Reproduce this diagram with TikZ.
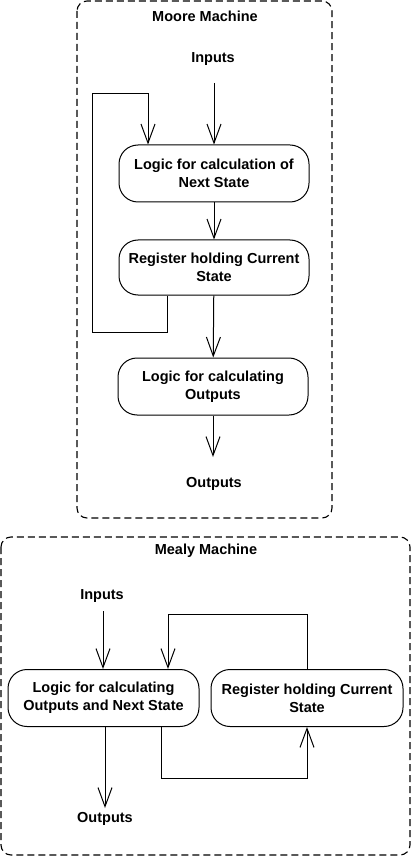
\documentclass[tikz,border=0pt]{standalone}
\usepackage{fontspec}
\setmainfont{Liberation Sans}
\usetikzlibrary{arrows.meta}
\tikzset{
  blok/.style={draw, line width=1pt, rounded corners=19pt, minimum width=190pt,
    minimum height=57pt, inner sep=0pt, align=center,
    font=\bfseries\fontsize{14.5}{18}\selectfont},
  lbl/.style={font=\bfseries\fontsize{14.5}{18}\selectfont},
  kader/.style={draw, line width=1.1pt, dash pattern=on 7pt off 4pt, rounded corners=10pt},
  pijl/.style={-{Straight Barb[length=19pt,width=14pt]}, line width=1pt},
}
\begin{document}
\begin{tikzpicture}[x=1pt,y=-1pt]
\useasboundingbox (0,0) rectangle (412,858);
% Moore
\draw[kader] (77,1) rectangle (332,518);
\node[lbl] (moore) at (205,16) {Moore Machine};
\node[lbl] (mooIn) at (213,59) {Inputs};
\coordinate (mooInA) at (214,83);
\node[blok] (NS) at (214,173.5) {Logic for calculation of\\Next State};
\node[blok, minimum height=55pt] (CS) at (214,267.5) {Register holding Current\\State};
\node[blok] (OUT) at (213,386.5) {Logic for calculating\\Outputs};
\coordinate (mooOutA) at (213,457);
\node[lbl] (mooOut) at (214,484) {Outputs};
\coordinate (loopA) at (167,332);
\coordinate (loopB) at (92,94);
\coordinate (loopC) at (148,94);
\draw[pijl] (mooInA) -- (NS.north);
\draw[pijl] (NS) -- (CS);
\draw[pijl] (CS) -- (OUT);
\draw[pijl] (OUT.south) -- (mooOutA);
\draw[pijl] (CS.south -| loopA) -- (loopA) -| (loopB) -- (loopC) -- (NS.north -| loopC);
% Mealy
\draw[kader] (1,537) rectangle (410,855);
\node[lbl] (mealy) at (206,551) {Mealy Machine};
\node[lbl] (mlyIn) at (102,596) {Inputs};
\coordinate (mlyInA) at (103,611);
\node[blok, minimum width=191pt] (LNS) at (103.5,698) {Logic for calculating\\Outputs and Next State};
\node[blok, minimum width=192pt] (RCS) at (307,698) {Register holding Current\\State};
\coordinate (mlyA) at (168,614);
\coordinate (mlyB) at (161,778);
\coordinate (mlyOutA) at (105,808);
\node[lbl] (mlyOut) at (105,819) {Outputs};
\draw[pijl] (mlyInA) -- (LNS.north -| mlyInA);
\draw[pijl] (RCS.north) |- (mlyA) -- (LNS.north -| mlyA);
\draw[pijl] (LNS.south -| mlyB) -- (mlyB) -| (RCS.south);
\draw[pijl] (LNS.south -| mlyOutA) -- (mlyOutA);
\end{tikzpicture}
\end{document}
